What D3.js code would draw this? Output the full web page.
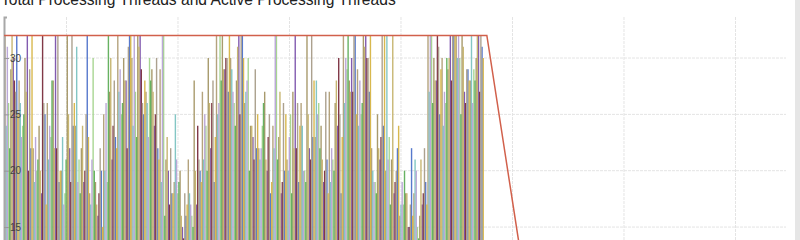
<!DOCTYPE html>
<html><head><meta charset="utf-8">
<script src="https://cdn.jsdelivr.net/npm/d3@7"></script>
<style>
html,body{margin:0;padding:0;background:#fff;overflow:hidden;}
svg{display:block;}
</style></head>
<body>
<svg id="chart" width="800" height="240"></svg>
<script>
// ---- data ----
const title = "Total Processing Threads and Active Processing Threads";
const yTickValues = [15, 20, 25, 30];
const yGridValues = [5, 10, 15, 20, 25, 30];
const xGridMinutes = [10, 20, 30, 40, 50, 60, 70];
const sampleStart = 4.485;   // minutes
const sampleStep = 1.2646;   // minutes between samples of one thread
const totalTimes = [4.4, 47.7, 52.7];
const totalThreads = [32, 32, 0];
const seriesColors = ["#b09e76","#7b52ab","#a3d48c","#4e72c9","#a39564","#7cc3c1",
                      "#7a2e3e","#5fae5a","#d6b444","#b7a3d6","#a89c88","#c4b26a"];
const seriesSlot = [0, 7, 3, 10, 5, 1, 8, 4, 11, 2, 9, 6];
const thread0  = [32,28,22,26,20,24,18,25,32,30,27,29,19,21,27,32,30,26,22,24,21,26,23,27,32,29,22,20,16,18,32,30,32,28];
const thread1  = [30,32,18,32,22,19,16,21,28,32,24,20,15,17,22,29,32,23,20,18,32,22,19,24,30,32,21,18,15,17,28,32,27,32];
const thread2  = [26,24,20,23,18,21,30,19,25,27,30,32,18,16,24,32,26,30,24,32,25,20,26,21,29,25,19,23,17,15,32,26,30,29];
const thread3  = [32,22,25,19,24,32,20,23,32,25,22,18,16,20,19,27,32,22,18,20,19,23,21,18,32,27,24,22,22,19,25,32,29,31];
const thread4  = [29,30,24,28,32,22,19,27,30,32,29,21,20,28,30,32,28,24,27,23,27,32,24,26,28,32,25,21,18,16,30,29,32,30];
const thread5  = [24,26,19,21,23,31,17,20,27,24,26,19,25,18,21,25,29,27,21,22,20,24,28,19,26,24,20,32,17,21,27,24,30,32];
const thread6  = [28,20,32,22,19,20,18,24,22,29,25,17,14,24,26,30,25,21,23,19,22,21,20,30,27,30,23,19,15,18,32,28,26,27];
const thread7  = [22,25,21,28,21,18,20,32,26,23,28,16,19,15,20,28,24,20,26,21,18,19,22,20,32,26,18,17,20,14,26,30,25,28];
const thread8  = [25,32,17,20,26,23,15,22,32,28,21,18,17,19,23,32,30,25,19,25,24,28,18,23,25,32,32,24,16,17,29,32,28,30];
const thread9  = [31,23,23,24,17,19,21,26,29,32,23,32,21,17,25,26,27,28,22,32,23,20,25,22,30,28,19,21,19,20,32,27,32,26];
const thread10 = [27,29,26,32,32,25,22,28,31,26,30,22,18,21,28,30,32,29,25,26,26,32,27,25,32,30,32,20,17,22,31,32,29,32];
const thread11 = [32,27,20,22,25,24,17,30,28,31,27,23,16,20,26,29,31,24,21,27,22,25,21,28,27,31,22,32,18,21,28,30,31,32];
const activeThreads = [thread0,thread1,thread2,thread3,thread4,thread5,thread6,thread7,thread8,thread9,thread10,thread11];

// ---- chart ----
const svg = d3.select("#chart");
const x = d3.scaleLinear().domain([4.395, 74.53]).range([4, 786]);
const y = d3.scaleLinear().domain([0, 33.64]).range([396.1, 17]);
const nS = activeThreads.length;

// scrollbar strip
svg.append("rect").attr("x", 795).attr("y", 0).attr("width", 5).attr("height", 240).attr("fill", "#e6e6e6");

// grid
svg.append("g").selectAll("line").data(yGridValues).join("line")
  .attr("x1", x.range()[0]).attr("x2", x.range()[1])
  .attr("y1", d => y(d)).attr("y2", d => y(d))
  .attr("stroke", "#e4e4e4").attr("stroke-width", 1).attr("stroke-dasharray", "3,1");
svg.append("g").selectAll("line").data(xGridMinutes).join("line")
  .attr("x1", d => x(d)).attr("x2", d => x(d))
  .attr("y1", y.range()[1]).attr("y2", 240)
  .attr("stroke", "#e4e4e4").attr("stroke-width", 1).attr("stroke-dasharray", "3,1");

// active thread spikes
const spikes = [];
activeThreads.forEach((vals, s) => vals.forEach((v, i) => {
  spikes.push({t: sampleStart + (i + seriesSlot[s] / nS) * sampleStep, v, s});
}));
svg.append("g").selectAll("line").data(spikes).join("line")
  .attr("x1", d => x(d.t)).attr("x2", d => x(d.t))
  .attr("y1", y(0)).attr("y2", d => y(d.v))
  .attr("stroke", d => seriesColors[d.s])
  .attr("stroke-width", 1.4).attr("stroke-opacity", 0.95);

// axis (on top)
const axis = svg.append("g").attr("transform", `translate(${x.range()[0]},0)`)
  .call(d3.axisRight(y).tickValues(yTickValues).tickSizeInner(5).tickSizeOuter(3).tickPadding(1));
axis.select(".domain").attr("stroke", "#a8a8a8").attr("stroke-width", 2);
axis.selectAll(".tick line").attr("stroke", "#999");
axis.selectAll("text").attr("fill", "#444").attr("font-size", 10).attr("font-family", "Liberation Sans, Arial, sans-serif");

// total threads line
svg.append("path")
  .datum(totalTimes.map((t, i) => [t, totalThreads[i]]))
  .attr("fill", "none").attr("stroke", "#d1604b").attr("stroke-width", 1.5)
  .attr("d", d3.line().x(d => x(d[0])).y(d => y(d[1])));

// title
svg.append("text").attr("x", 1).attr("y", 4.7)
  .attr("font-family", "Liberation Sans, Arial, sans-serif").attr("font-size", 15.6)
  .attr("fill", "#222").text(title);
</script>
</body></html>
